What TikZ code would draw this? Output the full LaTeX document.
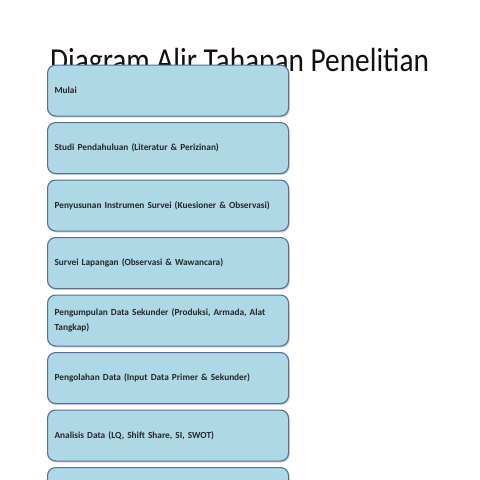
\documentclass[tikz,border=0pt]{standalone}
\usepackage{fontspec}
\setmainfont{Carlito}
\usetikzlibrary{shadows}
\definecolor{boxfill}{HTML}{ADD8E6}
\definecolor{boxline}{HTML}{5A6B9C}
\definecolor{titlecol}{HTML}{111111}
\tikzset{
  stepbox/.style={draw=boxline, line width=1.1pt, fill=boxfill, rounded corners=8pt,
    minimum width=241pt, minimum height=51pt, text width=227pt, inner sep=7pt,
    align=left, anchor=north west, font=\fontsize{9.3}{15.5}\selectfont\bfseries, text=black!85,
    drop shadow={shadow xshift=1.2pt, shadow yshift=-1.5pt, opacity=0.25, fill=black!60}},
  titletext/.style={anchor=base west, inner sep=0pt, font=\fontsize{33.5}{40}\selectfont, text=titlecol, xscale=0.875}
}
\begin{document}
\begin{tikzpicture}[x=1pt,y=-1pt]
\useasboundingbox (0,0) rectangle (480,480);
\clip (0,0) rectangle (480,480);
\fill[white] (0,0) rectangle (480,480);
\node[titletext] (title) at (50,71.5) {Diagram Alir Tahapan Penelitian};
\node[stepbox] (s1) at (47,64.5) {Mulai};
\node[stepbox] (s2) at (47,122) {Studi Pendahuluan (Literatur \& Perizinan)};
\node[stepbox] (s3) at (47,179.5) {Penyusunan Instrumen Survei (Kuesioner \& Observasi)};
\node[stepbox] (s4) at (47,237) {Survei Lapangan (Observasi \& Wawancara)};
\node[stepbox] (s5) at (47,294.5) {Pengumpulan Data Sekunder (Produksi, Armada, Alat Tangkap)};
\node[stepbox] (s6) at (47,352) {Pengolahan Data (Input Data Primer \& Sekunder)};
\node[stepbox] (s7) at (47,409.5) {Analisis Data (LQ, Shift Share, SI, SWOT)};
\node[stepbox] (s8) at (47,467) {};
\end{tikzpicture}
\end{document}
